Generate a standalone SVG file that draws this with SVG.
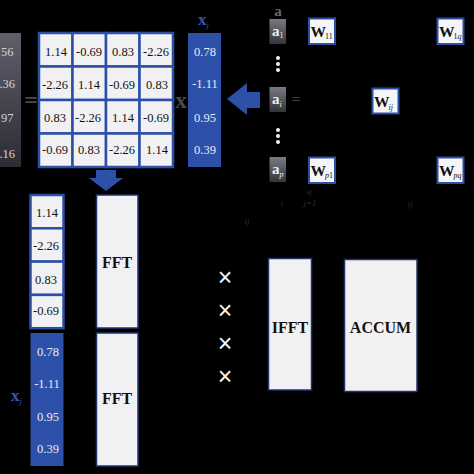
<svg xmlns="http://www.w3.org/2000/svg" width="474" height="474" viewBox="0 0 474 474">
<defs>
<linearGradient id="gcol" x1="0" y1="0" x2="0" y2="1"><stop offset="0" stop-color="#60606c"/><stop offset="1" stop-color="#2c2c36"/></linearGradient>
<linearGradient id="ga" x1="0" y1="0" x2="0" y2="1"><stop offset="0" stop-color="#7a7a84"/><stop offset="1" stop-color="#34343c"/></linearGradient>
</defs>
<style>
.cell{fill:#f1f1f3;stroke:#2c4fa6;stroke-width:2.5}
.blue{fill:#2d50a8}
.num{font-family:"Liberation Serif",serif;font-size:12.5px;fill:#111;text-anchor:middle}
.wnum{font-family:"Liberation Serif",serif;font-size:12.5px;fill:#e8ecf6;text-anchor:middle}
.gnum{font-family:"Liberation Serif",serif;font-size:12.5px;fill:#d4d4dc;text-anchor:end}
.big{font-family:"Liberation Serif",serif;font-size:16px;font-weight:bold;fill:#111;text-anchor:middle}
.wbox{fill:#f6f6f8;stroke:#2c4fa6;stroke-width:2}
.w{font-family:"Liberation Serif",serif;font-size:15.5px;font-weight:bold;fill:#111}
.sub{font-family:"Liberation Serif",serif;font-size:8px;font-style:italic;font-weight:normal}
.up{font-style:normal}
.al{font-family:"Liberation Serif",serif;font-size:15px;font-weight:bold;fill:#f0f0f0}
.op{font-family:"Liberation Serif",serif;fill:#4a4a4a;text-anchor:middle}
.faint{font-family:"Liberation Serif",serif;font-size:9px;font-style:italic;fill:#2e2e2e;text-anchor:middle}
.times{font-family:"Liberation Sans",sans-serif;font-size:25px;fill:#f4f4f4;text-anchor:middle}
.blk{fill:#f1f1f3;stroke:#23336e;stroke-width:1.5}
</style>
<rect width="474" height="474" fill="#000"/>

<g id="result-column">
<rect x="0" y="33" width="21" height="134" fill="url(#gcol)"/>
<text class="gnum" x="13.5" y="56">56</text>
<text class="gnum" x="15" y="88">.36</text>
<text class="gnum" x="13.5" y="122">97</text>
<text class="gnum" x="15" y="158">.16</text>
</g>

<text class="op" x="31" y="108" font-size="24" font-weight="bold">=</text>

<g id="matrix">
<rect class="cell" x="39" y="33" width="33.5" height="33.5"/>
<rect class="cell" x="72.5" y="33" width="33.5" height="33.5"/>
<rect class="cell" x="106" y="33" width="33.5" height="33.5"/>
<rect class="cell" x="139.5" y="33" width="33.5" height="33.5"/>
<rect class="cell" x="39" y="66.5" width="33.5" height="33.5"/>
<rect class="cell" x="72.5" y="66.5" width="33.5" height="33.5"/>
<rect class="cell" x="106" y="66.5" width="33.5" height="33.5"/>
<rect class="cell" x="139.5" y="66.5" width="33.5" height="33.5"/>
<rect class="cell" x="39" y="100" width="33.5" height="33.5"/>
<rect class="cell" x="72.5" y="100" width="33.5" height="33.5"/>
<rect class="cell" x="106" y="100" width="33.5" height="33.5"/>
<rect class="cell" x="139.5" y="100" width="33.5" height="33.5"/>
<rect class="cell" x="39" y="133.5" width="33.5" height="33.5"/>
<rect class="cell" x="72.5" y="133.5" width="33.5" height="33.5"/>
<rect class="cell" x="106" y="133.5" width="33.5" height="33.5"/>
<rect class="cell" x="139.5" y="133.5" width="33.5" height="33.5"/>
<text class="num" x="56" y="56">1.14</text><text class="num" x="89" y="56">-0.69</text><text class="num" x="123" y="56">0.83</text><text class="num" x="156" y="56">-2.26</text>
<text class="num" x="55" y="89">-2.26</text><text class="num" x="89" y="89">1.14</text><text class="num" x="122" y="89">-0.69</text><text class="num" x="157" y="89">0.83</text>
<text class="num" x="55" y="122">0.83</text><text class="num" x="88" y="122">-2.26</text><text class="num" x="123" y="122">1.14</text><text class="num" x="156" y="122">-0.69</text>
<text class="num" x="55" y="154">-0.69</text><text class="num" x="89" y="154">0.83</text><text class="num" x="122" y="154">-2.26</text><text class="num" x="157" y="154">1.14</text>
</g>

<text class="op" x="181" y="108" font-size="24" font-weight="bold" fill="#3a3a3a">x</text>

<g id="xj-vector">
<text x="198" y="25" font-family="Liberation Serif,serif" font-size="17" font-weight="bold" fill="#3556b8">x<tspan class="sub" font-size="11" dy="3" fill="#3556b8">j</tspan></text>
<rect class="blue" x="188" y="33" width="33" height="134"/>
<text class="wnum" x="205" y="56">0.78</text>
<text class="wnum" x="205" y="88">-1.11</text>
<text class="wnum" x="205" y="122">0.95</text>
<text class="wnum" x="205" y="154">0.39</text>
</g>

<g id="connectors">
<polygon class="blue" points="227,99 247,83 247,92 260,92 260,108 247,108 247,115"/>
<polygon class="blue" points="96,170 116,170 116,178 123,178 106,191 89,178 96,178"/>
</g>

<g id="a-vector">
<text x="278" y="16" font-family="Liberation Serif,serif" font-size="15" font-weight="bold" fill="#6a6a6a" text-anchor="middle">a</text>
<rect x="269.5" y="19" width="16.5" height="25" fill="url(#ga)"/>
<text class="al" x="272" y="36">a<tspan class="sub up" font-size="9" dy="2">1</tspan></text>
<circle cx="278" cy="58" r="2" fill="#f0f0f0"/><circle cx="278" cy="64" r="2" fill="#f0f0f0"/><circle cx="278" cy="70" r="2" fill="#f0f0f0"/>
<rect x="269.5" y="87" width="16.5" height="25" fill="url(#ga)"/>
<text class="al" x="272" y="104">a<tspan class="sub" font-size="9" dy="3">i</tspan></text>
<circle cx="278" cy="130" r="2" fill="#f0f0f0"/><circle cx="278" cy="136" r="2" fill="#f0f0f0"/><circle cx="278" cy="142" r="2" fill="#f0f0f0"/>
<rect x="269.5" y="157" width="16.5" height="25" fill="url(#ga)"/>
<text class="al" x="272" y="174">a<tspan class="sub" font-size="9" dy="3">p</tspan></text>
</g>

<text class="op" x="296" y="105" font-size="16">=</text>

<g id="w11"><rect class="wbox" x="309" y="18.5" width="26" height="25.5"/><text class="w" x="310.5" y="37">W<tspan class="sub up" dx="-1" dy="2">11</tspan></text></g>
<g id="w1q"><rect class="wbox" x="437.5" y="18.5" width="26" height="25.5"/><text class="w" x="439" y="37">W<tspan class="sub up" dx="-1" dy="2">1</tspan><tspan class="sub">q</tspan></text></g>
<g id="wij"><rect class="wbox" x="372.5" y="88.5" width="26" height="25"/><text class="w" x="374" y="106.5">W<tspan class="sub" dx="-1" dy="3">ij</tspan></text></g>
<g id="wp1"><rect class="wbox" x="309" y="157.5" width="26" height="25.5"/><text class="w" x="310.5" y="176">W<tspan class="sub" dx="-1" dy="2">p</tspan><tspan class="sub up">1</tspan></text></g>
<g id="wpq"><rect class="wbox" x="437.5" y="157.5" width="26" height="25.5"/><text class="w" x="439" y="176">W<tspan class="sub" dx="-1" dy="2">pq</tspan></text></g>

<g id="faint-labels">
<text class="faint" x="309" y="194">q</text>
<text class="faint" x="282" y="206">i</text>
<text class="faint" x="310" y="206">j=1</text>
<text class="faint" x="410" y="207">ij</text>
<text class="faint" x="247" y="224">ij</text>
</g>

<g id="row-column">
<rect class="cell" x="30.5" y="195" width="33" height="33.3"/>
<rect class="cell" x="30.5" y="228.3" width="33" height="33.3"/>
<rect class="cell" x="30.5" y="261.6" width="33" height="33.3"/>
<rect class="cell" x="30.5" y="294.9" width="33" height="33.3"/>
<text class="num" x="47" y="217">1.14</text>
<text class="num" x="46" y="250">-2.26</text>
<text class="num" x="46" y="284">0.83</text>
<text class="num" x="46" y="315">-0.69</text>
</g>

<g id="xj-column">
<rect class="blue" x="30.5" y="333" width="33" height="133"/>
<text class="wnum" x="48" y="356">0.78</text>
<text class="wnum" x="47" y="388">-1.11</text>
<text class="wnum" x="48" y="421">0.95</text>
<text class="wnum" x="48" y="453">0.39</text>
<text x="11" y="401" font-family="Liberation Serif,serif" font-size="17" font-weight="bold" fill="#3556b8">x<tspan class="sub" font-size="11" dy="3" fill="#3556b8">j</tspan></text>
</g>

<g id="fft1"><rect class="blk" x="96.5" y="195" width="41.5" height="133" stroke="#2c4fa6"/><text class="big" x="117" y="268">FFT</text></g>
<g id="fft2"><rect class="blk" x="96.5" y="333" width="41.5" height="133" stroke="#2c4fa6"/><text class="big" x="117" y="404">FFT</text></g>

<g id="multipliers">
<text class="times" x="225" y="286">×</text>
<text class="times" x="225" y="319">×</text>
<text class="times" x="225" y="352">×</text>
<text class="times" x="225" y="385">×</text>
</g>

<g id="ifft"><rect class="blk" x="268.5" y="258.5" width="43" height="131.5" stroke="#c8cce0"/><text class="big" x="290" y="333">IFFT</text></g>
<g id="accum"><rect class="blk" x="344.5" y="259.5" width="72.5" height="132"/><text class="big" x="380.5" y="333">ACCUM</text></g>
</svg>
